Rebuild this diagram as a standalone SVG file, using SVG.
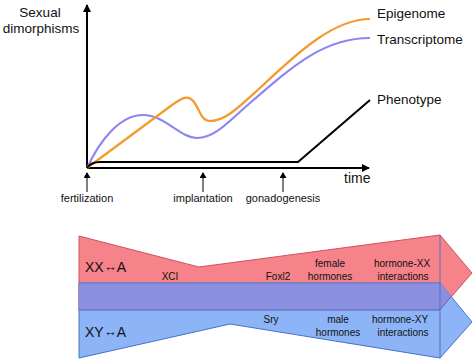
<svg xmlns="http://www.w3.org/2000/svg" width="474" height="361" viewBox="0 0 474 361">
<style>
text{font-family:"Liberation Sans",Arial,sans-serif;fill:#111}
.big{font-size:13.5px}
.lab{font-size:11px;text-anchor:middle}
.band{font-size:10px;text-anchor:middle}
.axis{stroke:#000;stroke-width:2;fill:none}
.tick{stroke:#000;stroke-width:1;fill:none}
</style>
<defs>
<marker id="ah" markerWidth="8" markerHeight="8" refX="7" refY="4" orient="auto" markerUnits="userSpaceOnUse"><path d="M0,0 L8,4 L0,8 Z" fill="#000"/></marker>
<marker id="th" markerWidth="6" markerHeight="7" refX="5" refY="3.5" orient="auto" markerUnits="userSpaceOnUse"><path d="M0,0 L6,3.5 L0,7 Z" fill="#000"/></marker>
</defs>
<g id="ylabel"><text class="big" x="40" y="17" text-anchor="middle">Sexual</text><text class="big" x="41" y="33" text-anchor="middle">dimorphisms</text></g>
<g id="connectors">
<path class="axis" d="M87,168 L87,5" marker-end="url(#ah)"/>
<path class="axis" d="M87,168 L369,168" marker-end="url(#ah)"/>
<path class="tick" d="M87,192 L87,173" marker-end="url(#th)"/>
<path class="tick" d="M203,192 L203,173" marker-end="url(#th)"/>
<path class="tick" d="M283,192 L283,173" marker-end="url(#th)"/>
</g>
<g id="transcriptome"><path d="M87,168 C100,140 120,115 143,115 C165,115 180,138 197,138 C215,138 228,122 250,103 C295,64 325,38 370,38" fill="none" stroke="#8C87F0" stroke-width="2.2"/><text class="big" x="377" y="44">Transcriptome</text></g>
<g id="epigenome"><path d="M87,168 L172,105 C182,98 188,94 194,102 C200,110 201,121 210,121 C225,121 238,108 260,88 C300,50 335,19 370,19" fill="none" stroke="#F39A2E" stroke-width="2.2"/><text class="big" x="377" y="18">Epigenome</text></g>
<g id="phenotype"><path d="M87,168 Q91,162 100,162 L298,162 L370,100" fill="none" stroke="#000" stroke-width="2"/><text class="big" x="377" y="104">Phenotype</text></g>
<g id="timelabels">
<text x="344" y="183" style="font-size:14px">time</text>
<text class="lab" x="87" y="202">fertilization</text>
<text class="lab" x="203" y="202">implantation</text>
<text class="lab" x="283" y="202">gonadogenesis</text>
</g>
<g id="bands">
<polygon points="79,236 199,267 440,235 472,273 440,310 79,310" fill="#F58389" stroke="#D2505E" stroke-width="1"/>
<polygon points="79,283 440,283 472,322 440,358 230,324 79,358" fill="#8DB4F7" stroke="#4272C8" stroke-width="1"/>
<polygon points="79,283 440,283 451,296 440,310 79,310" fill="#8A90DF" stroke="none"/>
<path d="M79,310 L440,310 L451,296.5" fill="none" stroke="#5F5FB8" stroke-width="1"/>
<path d="M79,283 L440,283" fill="none" stroke="#6A78C8" stroke-width="1"/>
<path d="M440,235 L440,358" fill="none" stroke="#5C6FB8" stroke-width="1"/>
</g>
<g id="xx"><text x="85" y="272" style="font-size:14px">XX<tspan style="font-size:13px" dy="-1">↔</tspan><tspan dy="1">A</tspan></text></g>
<g id="xy"><text x="85" y="337" style="font-size:14px">XY<tspan style="font-size:13px" dy="-1">↔</tspan><tspan dy="1">A</tspan></text></g>
<g id="xci"><text class="band" x="170" y="280">XCI</text></g>
<g id="foxl2"><text class="band" x="278" y="280">Foxl2</text></g>
<g id="female"><text class="band" x="330" y="267">female</text><text class="band" x="330" y="280">hormones</text></g>
<g id="hxx"><text class="band" x="402" y="267">hormone-XX</text><text class="band" x="403" y="280">interactions</text></g>
<g id="sry"><text class="band" x="271" y="323">Sry</text></g>
<g id="male"><text class="band" x="338" y="323">male</text><text class="band" x="338" y="336">hormones</text></g>
<g id="hxy"><text class="band" x="400" y="323">hormone-XY</text><text class="band" x="403" y="336">interactions</text></g>
</svg>
